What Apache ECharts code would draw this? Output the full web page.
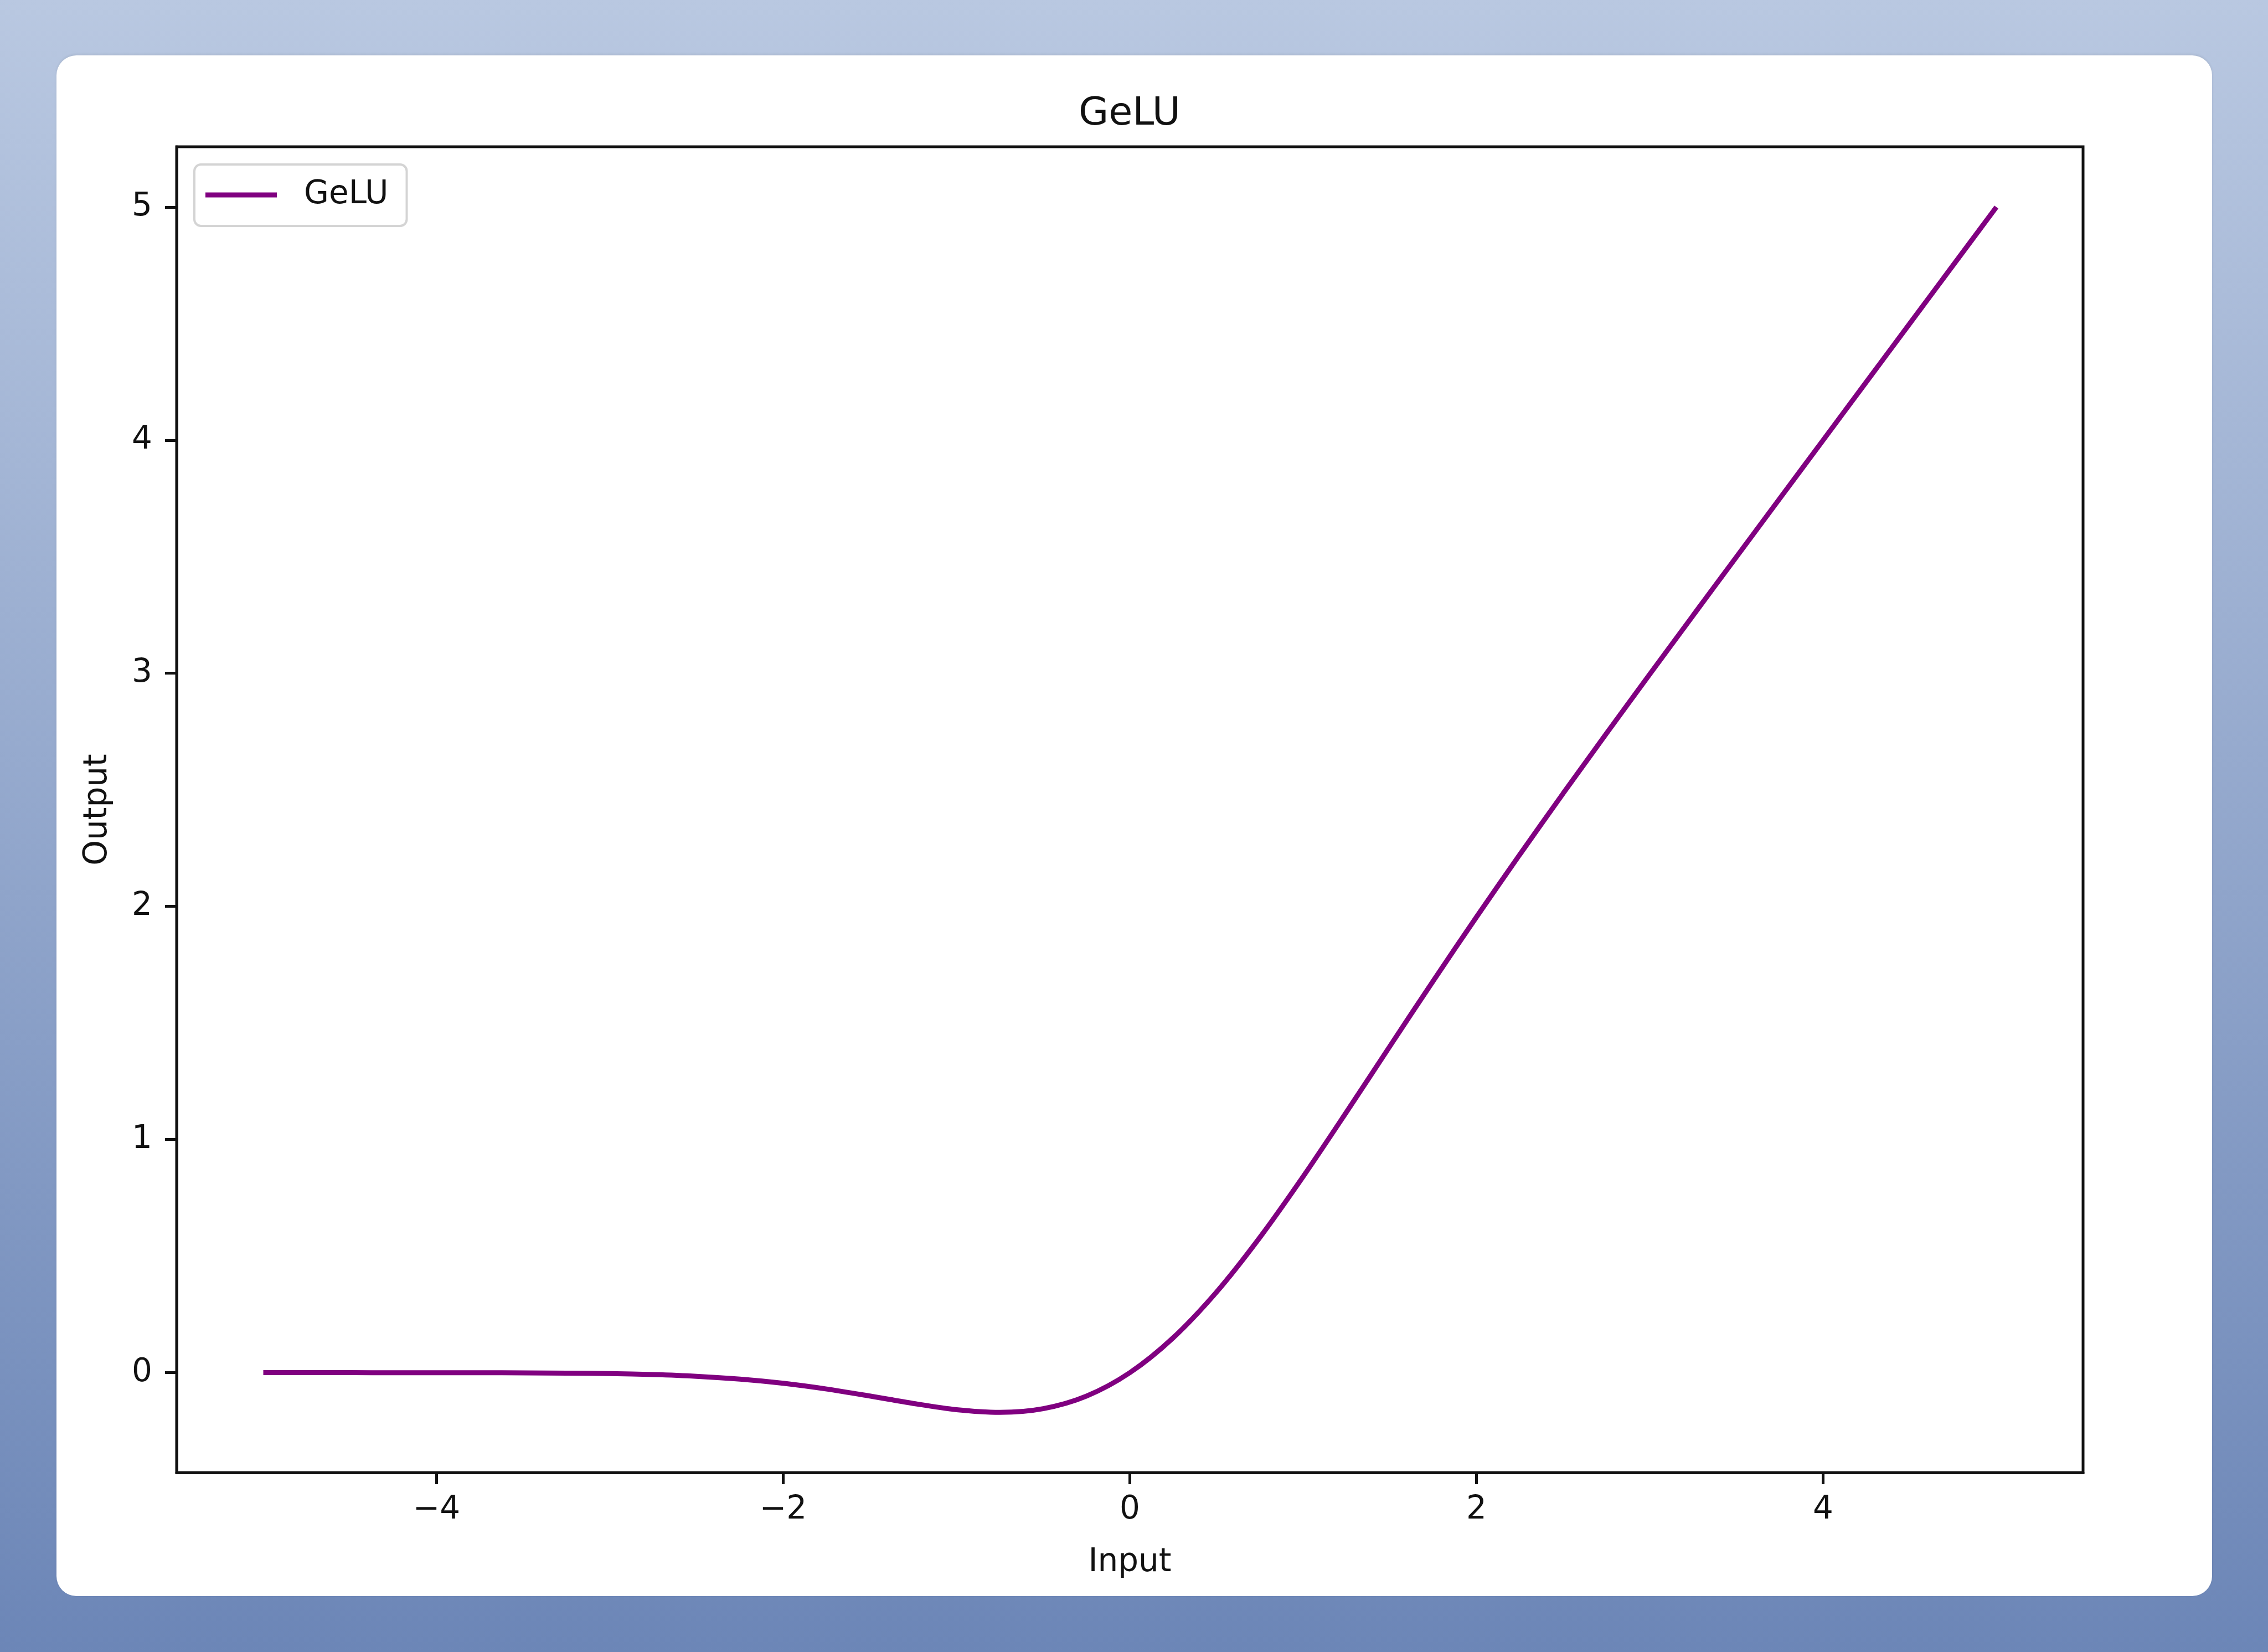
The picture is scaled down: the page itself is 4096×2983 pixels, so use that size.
<!DOCTYPE html>
<html>
<head>
<meta charset="utf-8">
<script src="https://cdn.jsdelivr.net/npm/echarts@6/dist/echarts.min.js"></script>
<style>
  html, body { margin:0; padding:0; width:4096px; height:2983px; overflow:hidden; }
  body { background: linear-gradient(to bottom, #b9c8e1 0%, #6c86b7 100%); position:relative; }
  #card { position:absolute; left:102px; top:100px; width:3893px; height:2782px; background:#fff; border-radius:36px; box-shadow:0 -2px 4px rgba(0,0,0,0.08); }
  #chart { position:absolute; left:0; top:0; width:4096px; height:2983px; }
</style>
</head>
<body>
<div id="card"></div>
<div id="chart"></div>
<script>
// Values
const seriesName = 'GeLU';
const xValues = [-5, -4.75, -4.5, -4.25, -4, -3.75, -3.5, -3.25, -3, -2.75, -2.5, -2.25, -2, -1.75, -1.5, -1.25, -1, -0.75, -0.5, -0.25, 0,
                 0.25, 0.5, 0.75, 1, 1.25, 1.5, 1.75, 2, 2.25, 2.5, 2.75, 3, 3.25, 3.5, 3.75, 4, 4.25, 4.5, 4.75, 5];
const yValues = [0, 0, 0, -0.0001, -0.0001, -0.0003, -0.0008, -0.0019, -0.004, -0.0082, -0.0155, -0.0275, -0.0455, -0.0701, -0.1002, -0.132, -0.1587, -0.17, -0.1543, -0.1003, 0,
                 0.1497, 0.3457, 0.58, 0.8413, 1.118, 1.3998, 1.6799, 1.9545, 2.2225, 2.4845, 2.7418, 2.996, 3.2481, 3.4992, 3.7497, 3.9999, 4.25, 4.5, 4.75, 5];
const xTicks = [-4, -2, 0, 2, 4];
const yTicks = [0, 1, 2, 3, 4, 5];
const titleText = 'GeLU';
const xName = 'Input';
const yName = 'Output';

const FONT = 'DejaVu Sans';
const INK = '#111111';
const LINE = '#800080';
const data = xValues.map((x, i) => [x, yValues[i]]);
const fmt = v => String(v).replace('-', '\u2212');

const chart = echarts.init(document.getElementById('chart'), null, { renderer: 'canvas', devicePixelRatio: 1, width: 4096, height: 2983 });
chart.setOption({
  animation: false,
  backgroundColor: 'transparent',
  title: {
    text: titleText, left: 2040, top: 172, textAlign: 'center', padding: 0,
    textStyle: { fontFamily: FONT, fontSize: 70, fontWeight: 'normal', color: INK }
  },
  legend: {
    data: [{ name: seriesName, icon: 'rect' }], left: 351, top: 297, orient: 'vertical',
    padding: [26, 33, 27, 20], itemWidth: 129, itemHeight: 9,
    itemStyle: { color: LINE, borderWidth: 0 },
    backgroundColor: '#ffffff', borderColor: '#d4d4d4', borderWidth: 4, borderRadius: 12,
    textStyle: { fontFamily: FONT, fontSize: 58, color: INK, padding: [0, 0, 0, 44] }
  },
  grid: {
    left: 319, top: 265, width: 3443, height: 2394, show: true,
    borderColor: INK, borderWidth: 5, backgroundColor: 'transparent', containLabel: false
  },
  xAxis: {
    type: 'value', min: -5.5, max: 5.5,
    name: xName, nameLocation: 'middle', nameGap: 134,
    nameTextStyle: { fontFamily: FONT, fontSize: 58, color: INK },
    axisLine: { show: true, onZero: false, lineStyle: { color: INK, width: 5 } },
    axisTick: { show: true, length: 21, lineStyle: { color: INK, width: 5 }, customValues: xTicks },
    axisLabel: { customValues: xTicks, margin: 39, fontFamily: FONT, fontSize: 58, color: INK, formatter: fmt },
    splitLine: { show: false }
  },
  yAxis: {
    type: 'value', min: -0.4285, max: 5.2585,
    name: yName, nameLocation: 'middle', nameGap: 113,
    nameTextStyle: { fontFamily: FONT, fontSize: 58, color: INK },
    axisLine: { show: true, onZero: false, lineStyle: { color: INK, width: 5 } },
    axisTick: { show: true, length: 21, lineStyle: { color: INK, width: 5 }, customValues: yTicks },
    axisLabel: { customValues: yTicks, margin: 44, fontFamily: FONT, fontSize: 58, color: INK, formatter: fmt },
    splitLine: { show: false }
  },
  series: [{
    name: seriesName, type: 'line', data: data,
    symbol: 'none', showSymbol: false, smooth: 0.3,
    lineStyle: { color: LINE, width: 9 },
    itemStyle: { color: LINE }
  }]
});
</script>
</body>
</html>
